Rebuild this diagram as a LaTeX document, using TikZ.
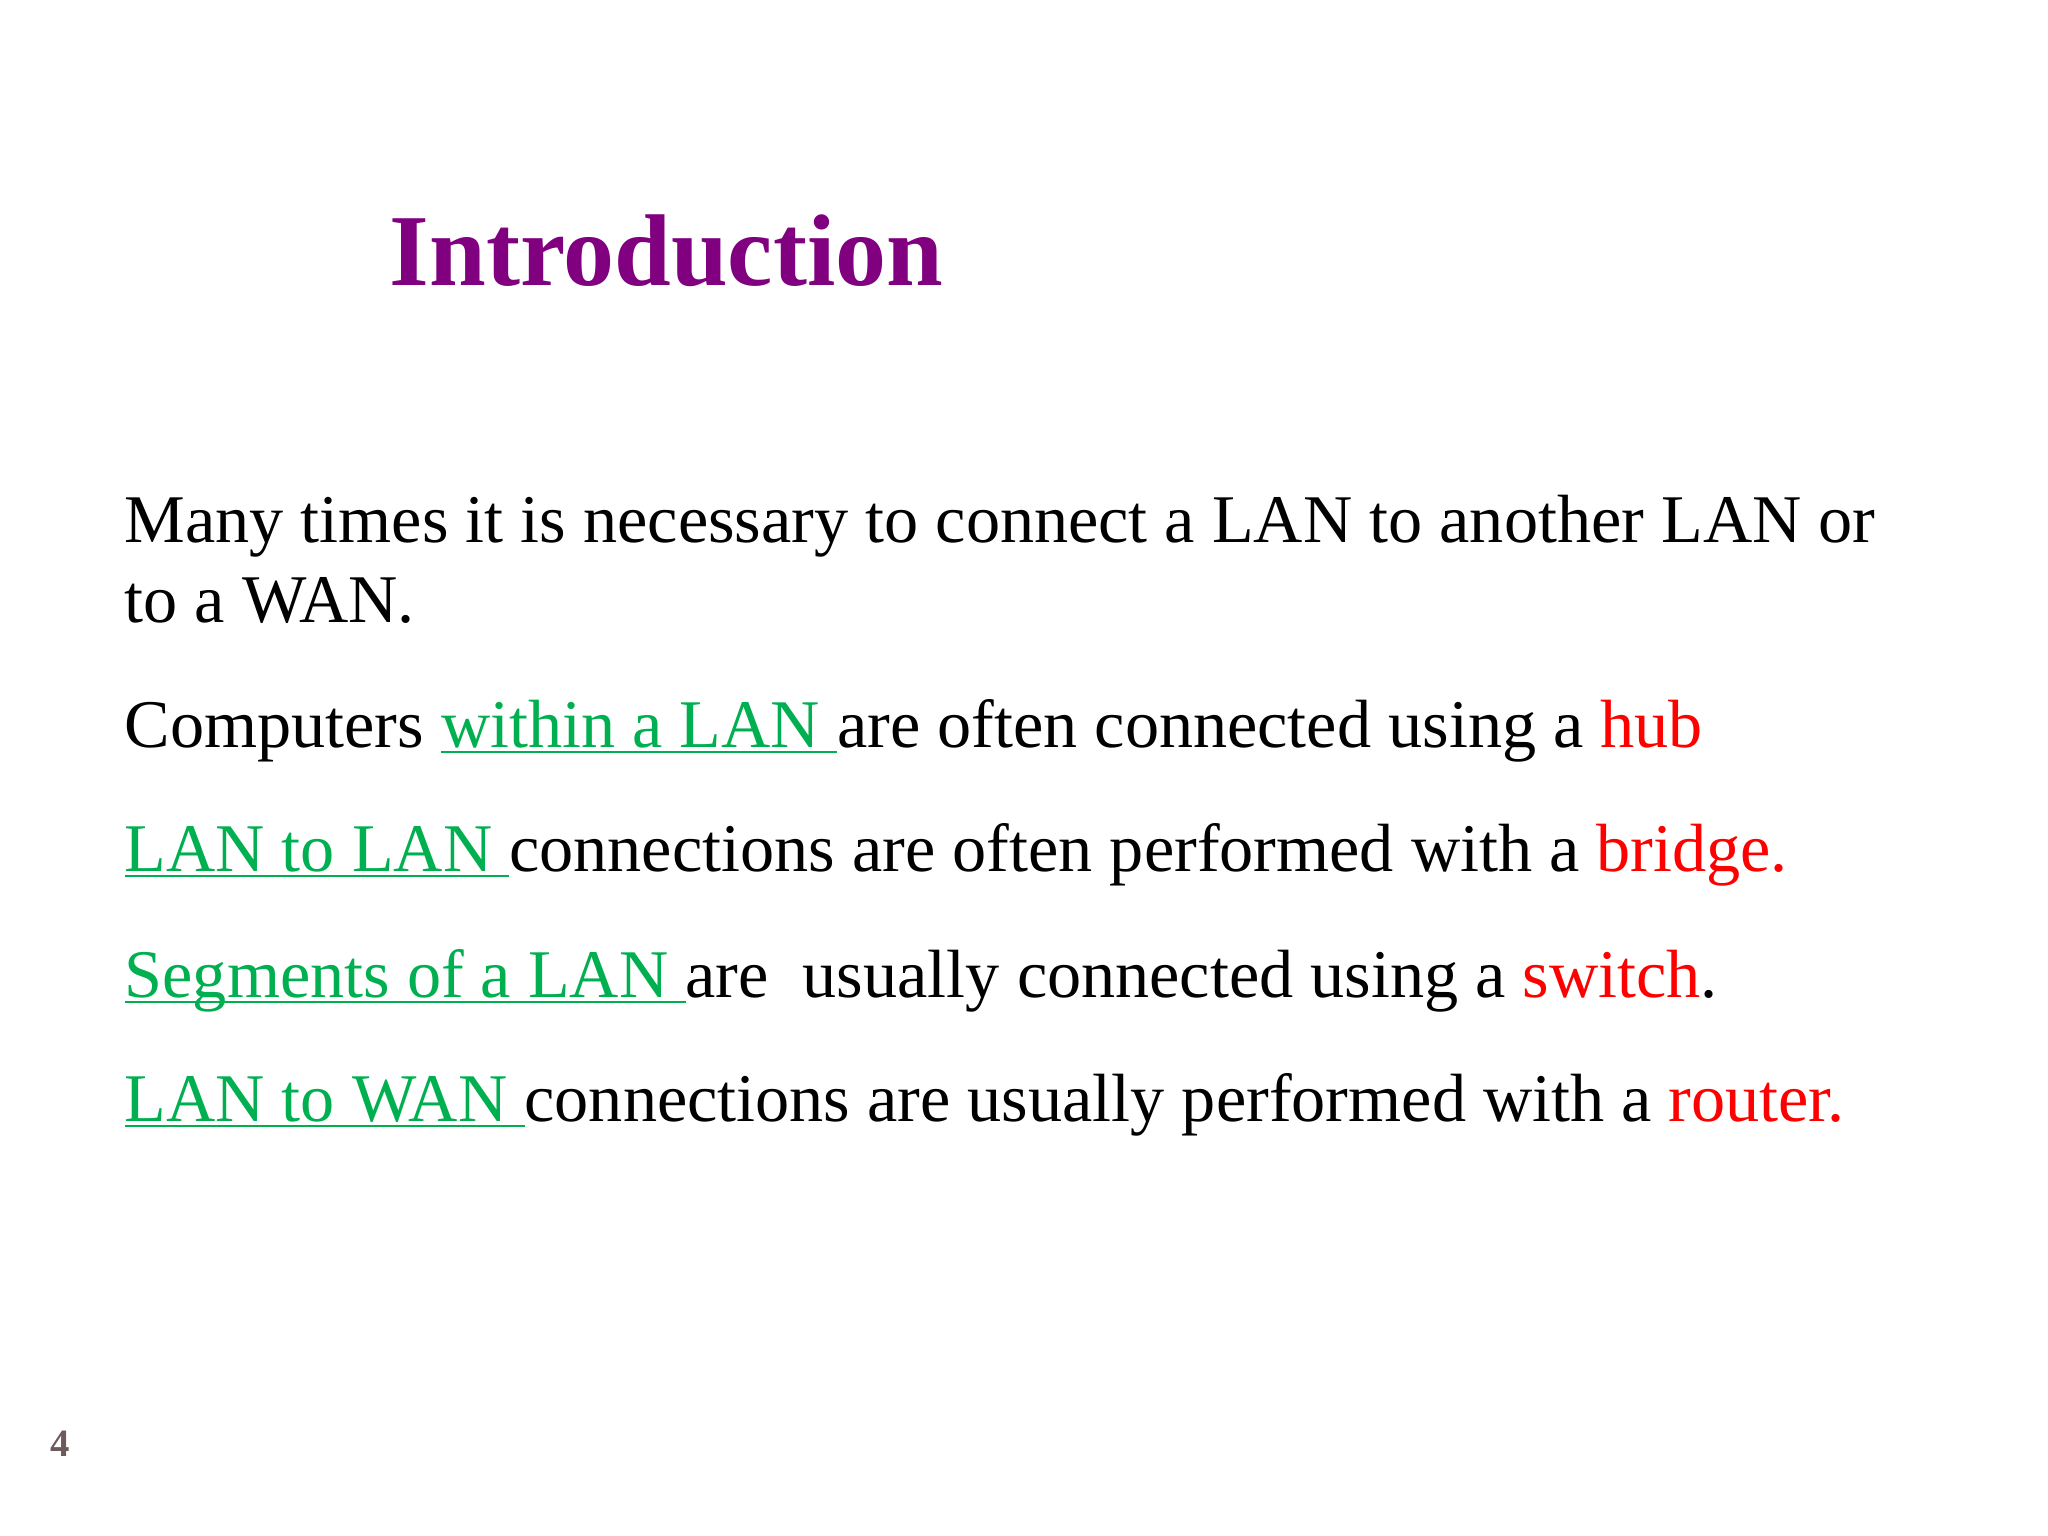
\documentclass[tikz,border=0pt]{standalone}
\usepackage{fontspec}
\setmainfont{Liberation Serif}
\definecolor{ttl}{RGB}{128,0,128}
\definecolor{grn}{RGB}{0,176,80}
\definecolor{rd}{RGB}{255,0,0}
\definecolor{pg}{RGB}{110,90,90}
\newcommand{\gu}[1]{\textcolor{grn}{\underline{\smash{#1}}}}
\begin{document}
\begin{tikzpicture}[x=0.01cm,y=-0.01cm,
  body/.style={anchor=base west,inner sep=0pt,font=\fontsize{19.4pt}{23pt}\selectfont}]
\useasboundingbox (0,0) rectangle (2048,1536);
\node[anchor=base west,inner sep=0pt,font=\fontsize{29pt}{34pt}\selectfont\bfseries,text=ttl] (title) at (389,285) {Introduction};
\node[body] (l1) at (124,542) {Many times it is necessary to connect a LAN to another LAN or};
\node[body] (l2) at (124,622) {to a WAN.};
\node[body] (l3) at (124,747) {Computers \gu{within a LAN\ }are often connected using a \textcolor{rd}{hub}};
\node[body] (l4) at (124,871) {\gu{LAN to LAN\ }connections are often performed with a \textcolor{rd}{bridge.}};
\node[body] (l5) at (124,997) {\gu{Segments of a LAN\ }are\ \ usually connected using a \textcolor{rd}{switch}.};
\node[body] (l6) at (124,1121) {\gu{LAN to WAN\ }connections are usually performed with a \textcolor{rd}{router.}};
\node[anchor=base west,inner sep=0pt,font=\fontsize{11pt}{13pt}\selectfont\bfseries,text=pg] (num) at (50,1456) {4};
\end{tikzpicture}
\end{document}
